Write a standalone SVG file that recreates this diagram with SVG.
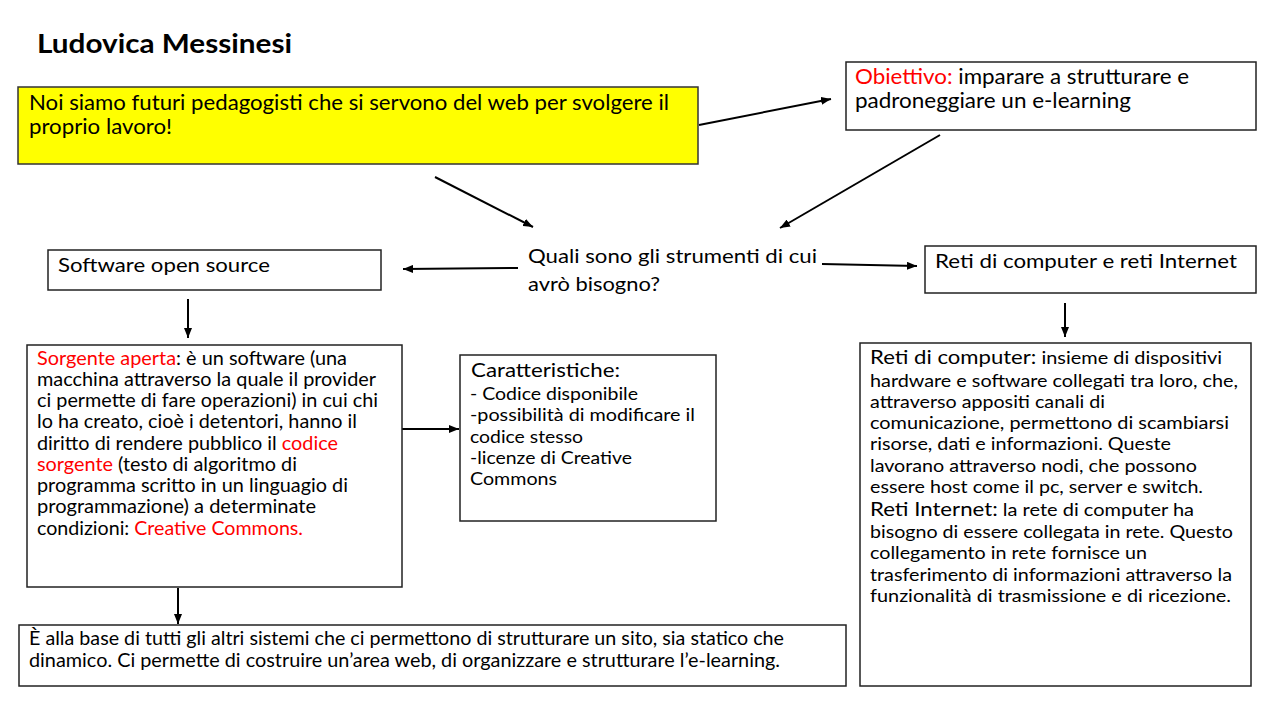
<svg xmlns="http://www.w3.org/2000/svg" width="1280" height="720" viewBox="0 0 1280 720">
<style>
text{font-family:Lato,"Noto Sans","Liberation Sans",sans-serif;fill:#000}
.box{fill:#fff;stroke:#222;stroke-width:1.5}
.yel{fill:#ffff00;stroke:#333;stroke-width:1.5}
.t21{font-size:21px}
.t20{font-size:20px}
.t19{font-size:19px}
.t18{font-size:18px}
.red{fill:#ff0000}
.con{stroke:#000;stroke-width:2;fill:none;marker-end:url(#ah)}
</style>
<defs>
<marker id="ah" markerUnits="userSpaceOnUse" viewBox="0 0 10 8" refX="10" refY="4" markerWidth="10" markerHeight="8" orient="auto">
<path d="M0,0 L10,4 L0,8 z" fill="#000"/>
</marker>
</defs>
<rect width="1280" height="720" fill="#fff"/>
<text id="title" x="37" y="53" font-size="27" font-weight="bold" textLength="255" lengthAdjust="spacingAndGlyphs">Ludovica Messinesi</text>

<g id="connectors">
<line class="con" x1="699" y1="125" x2="831" y2="99"/>
<line class="con" x1="435" y1="177" x2="533" y2="227"/>
<line class="con" x1="940" y1="135" x2="780" y2="228"/>
<line class="con" x1="518" y1="268" x2="403" y2="269"/>
<line class="con" x1="822" y1="264" x2="917" y2="266"/>
<line class="con" x1="188" y1="299" x2="188" y2="338"/>
<line class="con" x1="1065" y1="303" x2="1065" y2="337"/>
<line class="con" x1="402" y1="429" x2="459" y2="429"/>
<line class="con" x1="178" y1="588" x2="178" y2="624"/>
</g>

<g id="n-intro">
<rect class="yel" x="18" y="87" width="680" height="77"/>
<text class="t21" x="29" y="110" textLength="640" lengthAdjust="spacingAndGlyphs">Noi siamo futuri pedagogisti che si servono del web per svolgere il</text>
<text class="t21" x="29" y="134" textLength="143" lengthAdjust="spacingAndGlyphs">proprio lavoro!</text>
</g>

<g id="n-obiettivo">
<rect class="box" x="846" y="62" width="410" height="68"/>
<text class="t21" x="855" y="84" textLength="334" lengthAdjust="spacingAndGlyphs"><tspan class="red">Obiettivo:</tspan> imparare a strutturare e</text>
<text class="t21" x="855" y="108" textLength="276" lengthAdjust="spacingAndGlyphs">padroneggiare un e-learning</text>
</g>

<g id="n-domanda">
<text class="t20" x="528" y="263" textLength="289" lengthAdjust="spacingAndGlyphs">Quali sono gli strumenti di cui</text>
<text class="t20" x="528" y="291" textLength="132" lengthAdjust="spacingAndGlyphs">avrò bisogno?</text>
</g>

<g id="n-software">
<rect class="box" x="48" y="250" width="333" height="40"/>
<text class="t20" x="58" y="272" textLength="212" lengthAdjust="spacingAndGlyphs">Software open source</text>
</g>

<g id="n-reti">
<rect class="box" x="925" y="246" width="331" height="47"/>
<text class="t20" x="935" y="268" textLength="302" lengthAdjust="spacingAndGlyphs">Reti di computer e reti Internet</text>
</g>

<g id="n-sorgente">
<rect class="box" x="27" y="345" width="375" height="242"/>
<g class="t19">
<text x="37" y="365" textLength="310" lengthAdjust="spacingAndGlyphs"><tspan class="red">Sorgente aperta</tspan>: è un software (una</text>
<text x="37" y="386" textLength="339" lengthAdjust="spacingAndGlyphs">macchina attraverso la quale il provider</text>
<text x="37" y="407" textLength="341" lengthAdjust="spacingAndGlyphs">ci permette di fare operazioni) in cui chi</text>
<text x="37" y="428" textLength="320" lengthAdjust="spacingAndGlyphs">lo ha creato, cioè i detentori, hanno il</text>
<text x="37" y="450" textLength="301" lengthAdjust="spacingAndGlyphs">diritto di rendere pubblico il <tspan class="red">codice</tspan></text>
<text x="37" y="471" textLength="260" lengthAdjust="spacingAndGlyphs"><tspan class="red">sorgente</tspan> (testo di algoritmo di</text>
<text x="37" y="492" textLength="311" lengthAdjust="spacingAndGlyphs">programma scritto in un linguagio di</text>
<text x="37" y="513" textLength="279" lengthAdjust="spacingAndGlyphs">programmazione) a determinate</text>
<text x="37" y="535" textLength="266" lengthAdjust="spacingAndGlyphs">condizioni: <tspan class="red">Creative Commons.</tspan></text>
</g>
</g>

<g id="n-caratteristiche">
<rect class="box" x="460" y="355" width="256" height="166"/>
<text class="t20" x="471" y="377" textLength="149" lengthAdjust="spacingAndGlyphs">Caratteristiche:</text>
<g class="t18">
<text x="470" y="400" textLength="168" lengthAdjust="spacingAndGlyphs">- Codice disponibile</text>
<text x="470" y="421" textLength="225" lengthAdjust="spacingAndGlyphs">-possibilità di modificare il</text>
<text x="470" y="443" textLength="113" lengthAdjust="spacingAndGlyphs">codice stesso</text>
<text x="470" y="464" textLength="162" lengthAdjust="spacingAndGlyphs">-licenze di Creative</text>
<text x="470" y="485" textLength="87" lengthAdjust="spacingAndGlyphs">Commons</text>
</g>
</g>

<g id="n-retidettaglio">
<rect class="box" x="860" y="343" width="391" height="343"/>
<g class="t18">
<text x="870" y="364" textLength="352" lengthAdjust="spacingAndGlyphs"><tspan font-size="20">Reti di computer:</tspan> insieme di dispositivi</text>
<text x="870" y="387" textLength="368" lengthAdjust="spacingAndGlyphs">hardware e software collegati tra loro, che,</text>
<text x="870" y="408" textLength="235" lengthAdjust="spacingAndGlyphs">attraverso appositi canali di</text>
<text x="870" y="429" textLength="359" lengthAdjust="spacingAndGlyphs">comunicazione, permettono di scambiarsi</text>
<text x="870" y="450" textLength="301" lengthAdjust="spacingAndGlyphs">risorse, dati e informazioni. Queste</text>
<text x="870" y="472" textLength="327" lengthAdjust="spacingAndGlyphs">lavorano attraverso nodi, che possono</text>
<text x="870" y="493" textLength="333" lengthAdjust="spacingAndGlyphs">essere host come il pc, server e switch.</text>
<text x="870" y="516" textLength="324" lengthAdjust="spacingAndGlyphs"><tspan font-size="20">Reti Internet:</tspan> la rete di computer ha</text>
<text x="870" y="538" textLength="363" lengthAdjust="spacingAndGlyphs">bisogno di essere collegata in rete. Questo</text>
<text x="870" y="559" textLength="277" lengthAdjust="spacingAndGlyphs">collegamento in rete fornisce un</text>
<text x="870" y="581" textLength="362" lengthAdjust="spacingAndGlyphs">trasferimento di informazioni attraverso la</text>
<text x="870" y="602" textLength="361" lengthAdjust="spacingAndGlyphs">funzionalità di trasmissione e di ricezione.</text>
</g>
</g>

<g id="n-base">
<rect class="box" x="19" y="625" width="827" height="61"/>
<text class="t19" x="29" y="645" textLength="755" lengthAdjust="spacingAndGlyphs">È alla base di tutti gli altri sistemi che ci permettono di strutturare un sito, sia statico che</text>
<text class="t19" x="29" y="667" textLength="751" lengthAdjust="spacingAndGlyphs">dinamico. Ci permette di costruire un’area web, di organizzare e strutturare l’e-learning.</text>
</g>
</svg>
